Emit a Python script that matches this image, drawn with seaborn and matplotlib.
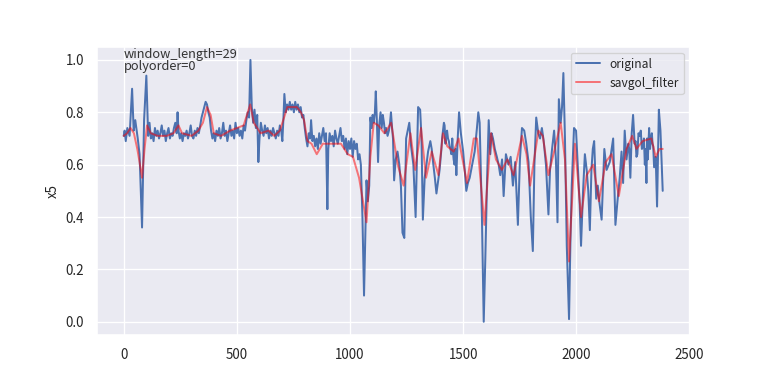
import numpy as np
import pandas as pd
import matplotlib
matplotlib.use('Agg')
import matplotlib.pyplot as plt
import seaborn as sns

# readings of the original x5 series (index, value); seaborn sorts by x
orig_x = [0, 4, 9, 16, 26, 37, 44, 51, 62, 70, 81, 90, 100, 108, 114, 120,
          126, 132, 138, 144, 150, 156, 162, 168, 174, 180, 186, 192, 198, 204, 210, 216, 222, 228,
          234, 238, 242, 248, 254, 260, 266, 272, 278, 284, 290, 296, 302, 308, 314, 320, 326, 332,
          338, 344, 350, 356, 362, 368, 374, 380, 386, 392, 398, 404, 410, 416, 422, 428, 434, 440,
          446, 452, 458, 464, 470, 476, 482, 488, 494, 500, 506, 512, 518, 524, 530, 536, 542, 548,
          554, 560, 566, 572, 578, 584, 590, 595, 600, 606, 612, 618, 624, 630, 636, 642, 648, 654,
          660, 666, 672, 678, 684, 690, 696, 701, 706, 710, 716, 722, 728, 734, 740, 746, 752, 758,
          764, 770, 776, 782, 788, 794, 800, 806, 812, 818, 824, 828, 834, 840, 846, 852, 858, 864,
          870, 876, 882, 888, 894, 900, 904, 910, 916, 922, 928, 934, 940, 946, 952, 958, 964, 970,
          976, 982, 988, 994, 1000, 1006, 1012, 1018, 1024, 1030, 1036, 1042, 1048, 1055, 1062,
          1068, 1073, 1079, 1085, 1090, 1096, 1100, 1105, 1110, 1114, 1119, 1124, 1129, 1135, 1140,
          1145, 1150, 1155, 1160, 1166, 1172, 1177, 1181, 1186, 1190,
          1195, 1202, 1210, 1218, 1225, 1232, 1240, 1248, 1255, 1262, 1270, 1280, 1290,
          1301, 1310, 1316, 1322, 1330, 1338, 1345, 1355, 1361, 1367, 1375, 1382, 1390, 1396, 1404,
          1411, 1418, 1425, 1433, 1440, 1448, 1455, 1462, 1470, 1476, 1482, 1490, 1500, 1507, 1514,
          1521, 1529, 1540, 1551, 1561, 1567, 1573, 1583, 1591, 1598, 1606, 1613, 1620, 1626, 1632,
          1640, 1649, 1657, 1664, 1672, 1679, 1689, 1700, 1710, 1720, 1730, 1742, 1751, 1760, 1770,
          1779, 1789, 1799, 1808, 1815, 1823, 1832, 1840, 1848, 1856, 1866, 1877, 1884, 1893, 1902,
          1910, 1917, 1923, 1931, 1937, 1943, 1950, 1958, 1968, 1974, 1980, 1990, 1999, 2009, 2015,
          2021, 2030, 2038, 2046, 2053, 2060, 2067, 2073, 2079, 2088, 2095, 2103, 2112, 2124, 2134,
          2148, 2163, 2173, 2182, 2192, 2200, 2207, 2214, 2222, 2230, 2239, 2251, 2258, 2266, 2275,
          2285, 2295, 2303, 2310, 2316, 2322, 2330, 2337, 2344, 2351, 2357, 2365, 2372, 2382,
          1407, 1415, 1422, 1429, 1437, 1444, 1452, 1458, 1466,
          2234, 2245, 2262, 2270, 2280, 2290, 2299, 2306, 2313, 2326, 2334, 2340]
orig_y = [0.71, 0.73, 0.69, 0.74, 0.71, 0.89, 0.73, 0.77, 0.70, 0.64, 0.36, 0.77, 0.94, 0.71, 0.76, 0.70,
          0.72, 0.69, 0.74, 0.71, 0.73, 0.70, 0.72, 0.75, 0.71, 0.73, 0.69, 0.72, 0.74, 0.70, 0.72,
          0.71, 0.74, 0.76, 0.72, 0.80, 0.73, 0.70, 0.72, 0.69, 0.72, 0.71, 0.73, 0.70, 0.72, 0.75,
          0.71, 0.70, 0.73, 0.71, 0.74, 0.72, 0.75, 0.78, 0.80, 0.82, 0.84, 0.83, 0.80, 0.78, 0.73,
          0.70, 0.72, 0.69, 0.73, 0.71, 0.74, 0.70, 0.72, 0.76, 0.71, 0.73, 0.69, 0.72, 0.75, 0.71,
          0.73, 0.70, 0.76, 0.72, 0.74, 0.71, 0.73, 0.70, 0.75, 0.73, 0.77, 0.80, 0.78, 1.00, 0.82,
          0.76, 0.81, 0.74, 0.79, 0.61, 0.70, 0.76, 0.73, 0.71, 0.75, 0.72, 0.74, 0.70, 0.73, 0.71,
          0.74, 0.72, 0.70, 0.73, 0.71, 0.75, 0.73, 0.69, 0.78, 0.87, 0.80, 0.83, 0.81, 0.84, 0.81,
          0.83, 0.80, 0.84, 0.81, 0.83, 0.80, 0.82, 0.78, 0.79, 0.74, 0.70, 0.67, 0.72, 0.70, 0.77,
          0.69, 0.71, 0.67, 0.70, 0.66, 0.72, 0.68, 0.71, 0.74, 0.69, 0.72, 0.43, 0.66, 0.72, 0.69,
          0.71, 0.67, 0.73, 0.70, 0.68, 0.71, 0.74, 0.69, 0.71, 0.66, 0.70, 0.64, 0.69, 0.66, 0.70,
          0.63, 0.69, 0.66, 0.68, 0.62, 0.64, 0.60, 0.40, 0.10, 0.35, 0.54, 0.46, 0.52, 0.78, 0.74,
          0.79, 0.76, 0.80, 0.88, 0.76, 0.61, 0.75, 0.80, 0.74, 0.79, 0.76, 0.72, 0.74, 0.71, 0.73,
          0.76, 0.80, 0.74, 0.70,
          0.54, 0.62, 0.65, 0.60, 0.52, 0.34, 0.32, 0.70, 0.73, 0.76, 0.67,
          0.60, 0.40, 0.82, 0.81, 0.70, 0.39, 0.55, 0.60, 0.65, 0.69, 0.66, 0.61, 0.55, 0.49, 0.54,
          0.58, 0.66, 0.73, 0.75, 0.72, 0.70, 0.67, 0.64, 0.65, 0.60, 0.56, 0.70, 0.80, 0.72, 0.65,
          0.58, 0.50, 0.53, 0.55, 0.60, 0.65, 0.74, 0.80, 0.76, 0.40, 0.00, 0.24, 0.55, 0.77, 0.64,
          0.72, 0.70, 0.66, 0.63, 0.60, 0.56, 0.62, 0.48, 0.64, 0.60, 0.63, 0.52, 0.61, 0.37, 0.62,
          0.74, 0.73, 0.68, 0.61, 0.40, 0.27, 0.60, 0.78, 0.72, 0.70, 0.74, 0.69, 0.60, 0.41, 0.58,
          0.66, 0.73, 0.62, 0.38, 0.85, 0.76, 0.82, 0.95, 0.70, 0.29, 0.01, 0.30, 0.52, 0.74, 0.73,
          0.55, 0.45, 0.29, 0.50, 0.64, 0.58, 0.50, 0.35, 0.58, 0.66, 0.69, 0.47, 0.52, 0.45, 0.39,
          0.66, 0.58, 0.61, 0.70, 0.37, 0.46, 0.55, 0.65, 0.53, 0.73, 0.62, 0.68, 0.55, 0.79, 0.68,
          0.63, 0.72, 0.73, 0.67, 0.60, 0.53, 0.62, 0.74, 0.70, 0.68, 0.59, 0.63, 0.44, 0.81, 0.73,
          0.50,
          0.70, 0.76, 0.68, 0.73, 0.69, 0.66, 0.70, 0.62, 0.66,
          0.66, 0.72, 0.69, 0.64, 0.71, 0.66, 0.70, 0.66, 0.70, 0.66, 0.72, 0.67]

# readings of the savgol_filter curve (window_length=29, polyorder=0)
sg_x = [0, 15, 30, 45, 60, 70, 81, 92, 103, 120, 150, 190, 220, 242, 258, 300, 330, 350, 368, 384,
        398, 430, 470, 500, 530, 559, 575, 605, 640, 665, 690, 705, 723, 745, 765, 783, 797, 812,
        830, 853, 880, 920, 960, 990, 1013, 1040, 1073, 1090, 1105, 1125, 1152, 1168, 1182, 1211,
        1237, 1267, 1288, 1314, 1336, 1361, 1391, 1411, 1430, 1458, 1480, 1517, 1547, 1561, 1594,
        1623, 1645, 1671, 1696, 1723, 1760, 1780, 1796, 1833, 1852, 1877, 1902, 1931, 1950, 1968,
        1994, 2021, 2046, 2075, 2100, 2130, 2156, 2188, 2222, 2247, 2266, 2293, 2332, 2351, 2368,
        2382]
sg_y = [0.71, 0.72, 0.74, 0.72, 0.66, 0.61, 0.55, 0.66, 0.75, 0.72, 0.71, 0.71, 0.72, 0.75, 0.72,
        0.71, 0.73, 0.76, 0.82, 0.79, 0.72, 0.71, 0.73, 0.74, 0.75, 0.83, 0.76, 0.72, 0.73, 0.71,
        0.73, 0.77, 0.82, 0.82, 0.82, 0.80, 0.77, 0.69, 0.68, 0.64, 0.68, 0.68, 0.68, 0.64, 0.63,
        0.55, 0.38, 0.63, 0.76, 0.75, 0.72, 0.74, 0.76, 0.60, 0.52, 0.72, 0.58, 0.74, 0.55, 0.65,
        0.56, 0.72, 0.67, 0.65, 0.70, 0.53, 0.70, 0.70, 0.37, 0.72, 0.62, 0.58, 0.62, 0.56, 0.71,
        0.64, 0.52, 0.73, 0.71, 0.56, 0.65, 0.76, 0.62, 0.23, 0.68, 0.40, 0.56, 0.60, 0.46, 0.61,
        0.64, 0.48, 0.66, 0.71, 0.66, 0.69, 0.70, 0.63, 0.66, 0.66]

sns.set_theme(style='darkgrid')
plt.rcParams['font.family'] = ['Noto Sans CJK JP', 'DejaVu Sans']

fig, ax = plt.subplots(figsize=(8, 4), dpi=96)
fig.subplots_adjust(left=0.126, right=0.898, top=0.878, bottom=0.128)

sns.lineplot(x=orig_x, y=orig_y, ax=ax, color='#4c72b0', lw=1.5, label='original')
sns.lineplot(x=sg_x, y=sg_y, ax=ax, color='red', alpha=0.5, lw=1.5, label='savgol_filter')

ax.set_xticks([0, 500, 1000, 1500, 2000, 2500])
ax.set_yticks([0.0, 0.2, 0.4, 0.6, 0.8, 1.0])
ax.tick_params(labelsize=10)
ax.set_ylabel('x5', fontsize=10)
ax.text(0, 1.047, 'window_length=29\npolyorder=0', fontsize=9.6, va='top', ha='left',
        color='#333333', linespacing=0.95)
ax.legend(loc='upper right', fontsize=9)

fig.savefig('out.png', dpi=96)
